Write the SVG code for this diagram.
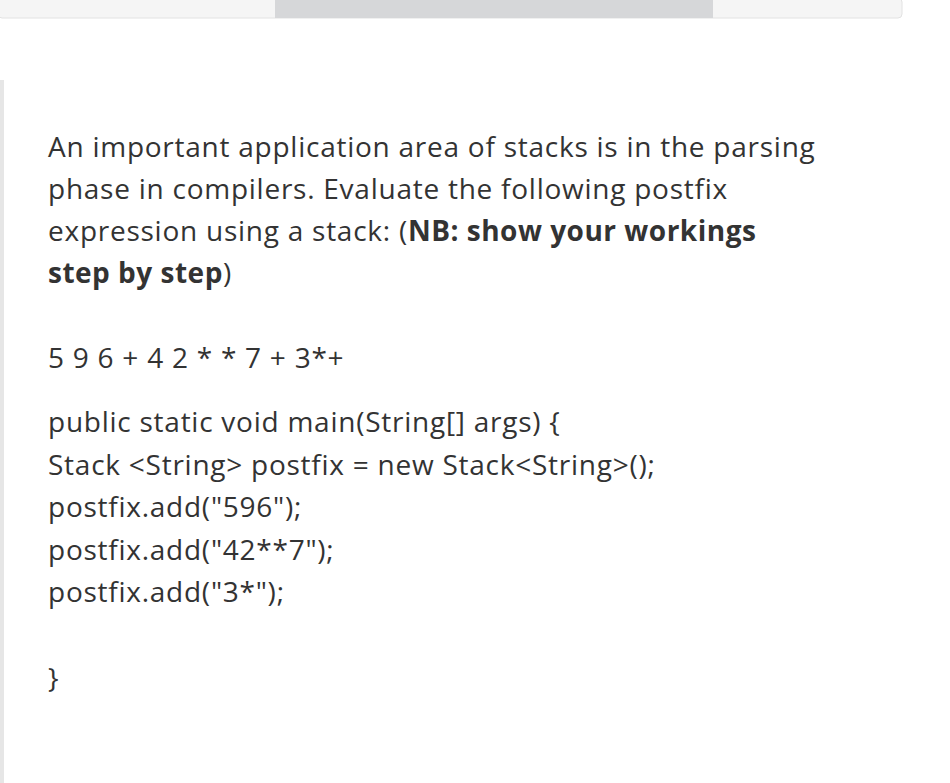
<svg xmlns="http://www.w3.org/2000/svg" width="950" height="783" viewBox="0 0 950 783">
<style>
text{font-family:"Open Sans","Noto Sans",sans-serif;font-size:28px;letter-spacing:0.75px;fill:#333}
.b{font-weight:bold;letter-spacing:0.5px}
</style>
<rect width="950" height="783" fill="#fff"/>
<rect x="-2" y="-2" width="904" height="20" rx="4" fill="#f5f5f5" stroke="#e2e2e2"/>
<rect x="275" y="0" width="438" height="18" fill="#d6d7d9"/>
<rect x="0" y="80" width="4" height="703" fill="#e6e6e6"/>
<text x="48" y="157">An important application area of stacks is in the parsing</text>
<text x="48" y="199">phase in compilers. Evaluate the following postfix</text>
<text x="48" y="241">expression using a stack: (<tspan class="b">NB: show your workings</tspan></text>
<text x="48" y="283"><tspan class="b">step by step</tspan>)</text>
<text x="48" y="368">5 9 6 + 4 2 * * 7 + 3*+</text>
<text x="48" y="432">public static void main(String[] args) {</text>
<text x="48" y="475">Stack &lt;String&gt; postfix = new Stack&lt;String&gt;();</text>
<text x="48" y="517">postfix.add("596");</text>
<text x="48" y="560">postfix.add("42**7");</text>
<text x="48" y="602">postfix.add("3*");</text>
<text x="48" y="688">}</text>
</svg>
